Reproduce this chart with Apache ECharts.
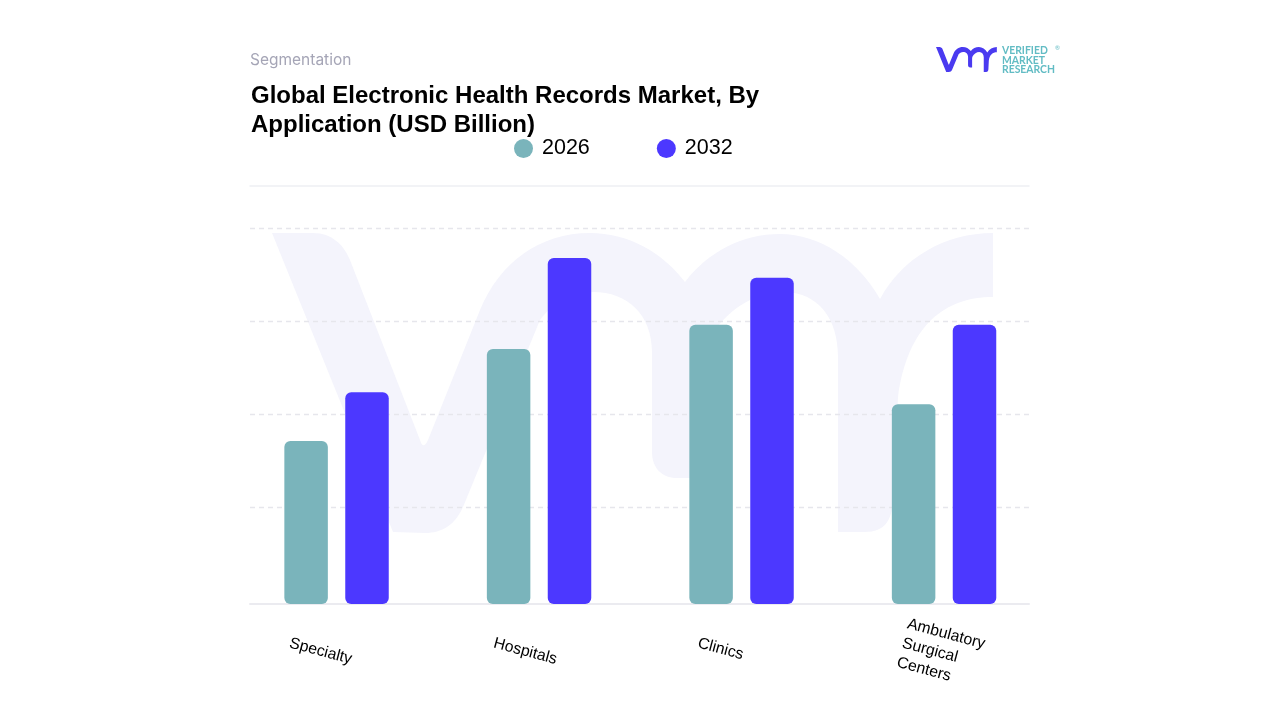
<!DOCTYPE html>
<html>
<head>
<meta charset="utf-8">
<style>html,body{margin:0;padding:0;background:#fff}#c{width:1280px;height:720px}</style>
<script src="https://cdn.jsdelivr.net/npm/echarts@6/dist/echarts.min.js"></script>
</head>
<body>
<div id="c"></div>
<script>
const categories = ['Specialty', 'Hospitals', 'Clinics', 'Ambulatory\nSurgical\nCenters'];
const values2026 = [1.74, 2.72, 2.98, 2.13];
const values2032 = [2.26, 3.69, 3.48, 2.98];
const seriesNames = ['2026', '2032'];
const yMax = 4.464;
const gridMax = 4.463;
const tickStep = 1;

const logoPath = 'M272 233 L313 233 C332 233 344 245 350 260 L420 440 C422 447 425 447 428 440 L480 310 C500 262 540 233 590 233 C628 233 662 252 685 282 C708 252 742 234 780 234 C820 234 858 260 880 299 C902 258 945 233 993 233 L993 297 C945 297 908 325 898 397 L893 500 C892 520 885 532 865 532 L838 532 L838 357 C838 318 818 293 785 292 C752 292 725 312 708 340 C702 350 700 360 700 372 L700 478 L677 478 C662 478 652 468 652 452 L652 352 C652 315 628 292 593 292 C570 292 552 304 540 320 L463 507 C455 525 442 533 425 533 L393 532 Z';
echarts.graphic.registerShape('vmrLogo', echarts.graphic.extendPath(logoPath, {}));
const smallScale = 61 / 723;

const hiddenX = {axisLine: {show: false}, axisTick: {show: false}, axisLabel: {show: false}};
const hiddenY = {axisLine: {show: false}, axisTick: {show: false}, axisLabel: {show: false}, splitLine: {show: false}};

const chart = echarts.init(document.getElementById('c'), null, {renderer: 'canvas'});
chart.setOption({
  animation: false,
  backgroundColor: '#ffffff',
  title: [
    {text: 'Segmentation', left: 245, top: 47, textStyle: {fontFamily: 'Inter', fontSize: 15.5, fontWeight: 'normal', color: '#a5a5b6'}},
    {text: 'Global Electronic Health Records Market, By\nApplication (USD Billion)', left: 246, top: 77,
      textStyle: {fontFamily: 'Liberation Sans', fontSize: 24, fontWeight: 'bold', color: '#000000', lineHeight: 29}}
  ],
  legend: {
    data: seriesNames, left: 509, top: 132.5, icon: 'circle', itemWidth: 19, itemHeight: 19, itemGap: 67,
    textStyle: {fontFamily: 'Liberation Sans', fontSize: 21.5, color: '#000000', padding: [3, 0, 0, 4]}
  },
  graphic: [
    {type: 'vmrLogo', x: 0, y: 0, style: {fill: '#f4f4fc'}, silent: true, z: -10},
    {type: 'vmrLogo', x: 936 - 272 * smallScale, y: 47 - 233 * (25 / 300), scaleX: smallScale, scaleY: 25 / 300,
      style: {fill: '#4a3af0'}, silent: true, z: 5},
    {type: 'text', x: 1002, y: 46, silent: true, style: {text: 'VERIFIED\nMARKET\nRESEARCH', fontFamily: 'Lato', fontWeight: 'bold', fontSize: 10.4, lineHeight: 9.6, fill: '#62bcc4'}},
    {type: 'text', x: 1055, y: 45, silent: true, style: {text: '®', fontFamily: 'Lato', fontSize: 6, fill: '#62bcc4'}}
  ],
  grid: [
    {left: 235.3, width: 810, top: 185.5, height: 418.5},
    {left: 250, width: 779, top: 185.5, height: 414.6},
    {left: 187.5, width: 817, top: 604, height: 1},
    {left: 250, width: 779, top: 185.5, height: 418.5}
  ],
  xAxis: [
    Object.assign({type: 'category', gridIndex: 0, data: categories}, hiddenX),
    Object.assign({type: 'category', gridIndex: 1, data: categories}, hiddenX),
    {type: 'category', gridIndex: 2, data: categories, position: 'bottom', axisLine: {show: false}, axisTick: {show: false},
      axisLabel: {show: true, interval: 0, rotate: -15, align: 'left', verticalAlign: 'middle', margin: 38, hideOverlap: false,
        fontFamily: 'Liberation Sans', fontSize: 15.8, lineHeight: 20, color: '#000000'}},
    {type: 'category', gridIndex: 3, data: categories, position: 'bottom', axisLine: {show: true, lineStyle: {color: '#ebebf0', width: 2}}, axisTick: {show: false}, axisLabel: {show: false}},
    {type: 'category', gridIndex: 3, data: categories, position: 'top', axisLine: {show: true, lineStyle: {color: '#eef0f4', width: 1.5}}, axisTick: {show: false}, axisLabel: {show: false}}
  ],
  yAxis: [
    Object.assign({type: 'value', gridIndex: 0, min: 0, max: yMax, interval: tickStep}, hiddenY),
    {type: 'value', gridIndex: 1, min: 0, max: gridMax, interval: tickStep, axisLine: {show: false}, axisTick: {show: false}, axisLabel: {show: false},
      splitLine: {show: true, showMinLine: false, showMaxLine: false, lineStyle: {color: '#e6e6ec', width: 1.3, type: [5, 4]}}},
    Object.assign({type: 'value', gridIndex: 2, min: 0, max: 1}, hiddenY),
    Object.assign({type: 'value', gridIndex: 3, min: 0, max: 1}, hiddenY)
  ],
  series: [
    {name: seriesNames[0], type: 'bar', xAxisIndex: 0, yAxisIndex: 0, data: values2026, barWidth: 43.5, barGap: '40%',
      itemStyle: {color: '#7ab4bb', borderRadius: 6}},
    {name: seriesNames[1], type: 'bar', xAxisIndex: 0, yAxisIndex: 0, data: values2032, barWidth: 43.5, barGap: '40%',
      itemStyle: {color: '#4c38ff', borderRadius: 6}}
  ]
});
</script>
</body>
</html>
